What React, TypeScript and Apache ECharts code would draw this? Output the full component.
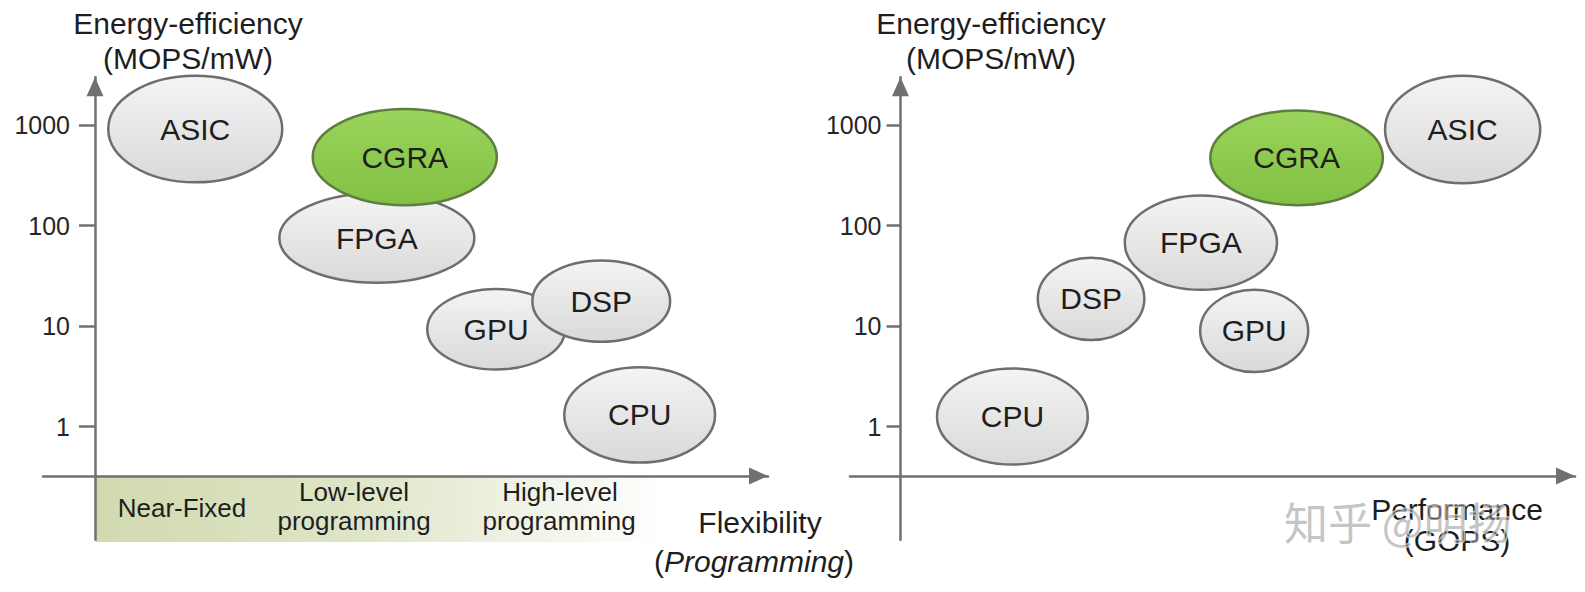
import React, { useEffect, useRef } from "react";
import * as echarts from "echarts";

// Tick values of the energy-efficiency axis (MOPS/mW)
const effTicks = [1, 10, 100, 1000];

// Left panel: energy-efficiency vs flexibility (ranges covered by each class)
const flexNames = ["ASIC", "FPGA", "CGRA", "GPU", "DSP", "CPU"];
const flexLow = [9.0, 32.6, 37.2, 53.0, 67.5, 71.9];
const flexHigh = [33.0, 59.5, 62.6, 72.0, 86.5, 92.7];
const flexEffLow = [270, 27, 160, 3.7, 7, 0.44];
const flexEffHigh = [3100, 210, 1450, 23.5, 45, 3.9];

// Right panel: energy-efficiency vs performance (GOPS)
const perfNames = ["CPU", "DSP", "GPU", "FPGA", "CGRA", "ASIC"];
const perfLow = [12.0, 25.9, 48.3, 37.9, 49.7, 73.8];
const perfHigh = [32.8, 40.6, 63.2, 58.9, 73.5, 95.2];
const perfEffLow = [0.42, 7.3, 3.5, 23, 160, 265];
const perfEffHigh = [3.8, 48, 23, 200, 1400, 3100];

// Programming-level band labels
const levelLabels = ["Near-Fixed", "Low-level", "programming", "High-level", "programming"];

const FONT = "'Liberation Sans', Arial, Helvetica, sans-serif";
const AXIS_COLOR = "#707070";
const TEXT_COLOR = "#1e1e1e";

function buildData(names: string[], lo: number[], hi: number[], eLo: number[], eHi: number[]) {
  return names.map((n, i) => ({ name: n, value: [lo[i], hi[i], eLo[i], eHi[i]] }));
}

function makeRenderer(names: string[]) {
  return function renderEllipse(params: any, api: any) {
    const x0 = api.value(0);
    const x1 = api.value(1);
    const y0 = api.value(2);
    const y1 = api.value(3);
    const p0 = api.coord([x0, y0]);
    const p1 = api.coord([x1, y1]);
    const cx = (p0[0] + p1[0]) / 2;
    const cy = (p0[1] + p1[1]) / 2;
    const rx = Math.abs(p1[0] - p0[0]) / 2;
    const ry = Math.abs(p1[1] - p0[1]) / 2;
    const name = names[params.dataIndex] || "";
    const green = name === "CGRA";
    const fill = green
      ? new echarts.graphic.LinearGradient(0, 0, 0, 1, [
          { offset: 0, color: "#9ad45c" },
          { offset: 1, color: "#82c043" },
        ])
      : new echarts.graphic.LinearGradient(0, 0, 0, 1, [
          { offset: 0, color: "#f4f4f4" },
          { offset: 1, color: "#d9d9d9" },
        ]);
    return {
      type: "group",
      children: [
        {
          type: "ellipse",
          shape: { cx, cy, rx, ry },
          style: { fill, stroke: green ? "#5e7d40" : "#6e6e6e", lineWidth: 2.5 },
        },
        {
          type: "text",
          style: {
            text: name,
            x: cx,
            y: cy,
            align: "center",
            verticalAlign: "middle",
            textAlign: "center",
            textVerticalAlign: "middle",
            fontSize: 30,
            fontFamily: FONT,
            fill: TEXT_COLOR,
          },
        },
      ],
    };
  };
}

function yAxisFor(gridIndex: number, offset: number, tickLen: number, margin: number) {
  return {
    type: "log",
    logBase: 10,
    gridIndex,
    min: 0.075,
    max: 3000,
    offset,
    axisLine: {
      show: true,
      onZero: false,
      symbol: ["none", "triangle"],
      symbolSize: [17, 19],
      symbolOffset: [0, -9.5],
      lineStyle: { color: AXIS_COLOR, width: 2.5 },
    },
    axisTick: {
      show: true,
      inside: false,
      length: tickLen,
      customValues: effTicks,
      lineStyle: { color: AXIS_COLOR, width: 2.5 },
    },
    axisLabel: {
      show: true,
      margin,
      customValues: effTicks,
      fontSize: 25,
      fontFamily: FONT,
      color: "#262626",
      formatter: (v: number) => String(Math.round(v)),
    },
    splitLine: { show: false },
    minorTick: { show: false },
  };
}

function xAxisFor(gridIndex: number) {
  return {
    type: "value",
    gridIndex,
    min: 0,
    max: 100,
    offset: -63.75,
    axisLine: {
      show: true,
      onZero: false,
      symbol: ["none", "triangle"],
      symbolSize: [17, 19],
      symbolOffset: [0, -9.5],
      lineStyle: { color: AXIS_COLOR, width: 2.5 },
    },
    axisTick: { show: false },
    axisLabel: { show: false },
    splitLine: { show: false },
  };
}

function txt(text: string, x: number, y: number, size: number, extra: any = {}) {
  return {
    type: "text",
    x,
    y,
    z: 10,
    style: {
      text,
      align: "center",
      verticalAlign: "middle",
      fontSize: size,
      fontFamily: FONT,
      fill: TEXT_COLOR,
      ...extra,
    },
  };
}

export default function App() {
  const ref = useRef<HTMLDivElement>(null);

  useEffect(() => {
    document.body.style.margin = "0";
    document.body.style.overflow = "hidden";
    if (!ref.current) return;
    const chart = echarts.init(ref.current, undefined, { renderer: "svg" });

    const option: any = {
      animation: false,
      backgroundColor: "#ffffff",
      grid: [
        { left: 43, top: 77.25, width: 725, height: 462.5 },
        { left: 850, top: 77.25, width: 725, height: 462.5 },
      ],
      xAxis: [xAxisFor(0), xAxisFor(1)],
      yAxis: [yAxisFor(0, -52, 16, 25), yAxisFor(1, -50.5, 14, 19)],
      series: [
        {
          type: "custom",
          xAxisIndex: 0,
          yAxisIndex: 0,
          renderItem: makeRenderer(flexNames),
          encode: { x: [0, 1], y: [2, 3] },
          data: buildData(flexNames, flexLow, flexHigh, flexEffLow, flexEffHigh),
          z: 3,
        },
        {
          type: "custom",
          xAxisIndex: 1,
          yAxisIndex: 1,
          renderItem: makeRenderer(perfNames),
          encode: { x: [0, 1], y: [2, 3] },
          data: buildData(perfNames, perfLow, perfHigh, perfEffLow, perfEffHigh),
          z: 3,
        },
      ],
      graphic: [
        {
          type: "rect",
          z: -10,
          shape: { x: 96, y: 477.5, width: 570, height: 64.5 },
          style: {
            fill: new echarts.graphic.LinearGradient(0, 0, 1, 0, [
              { offset: 0, color: "#d1daaf" },
              { offset: 0.45, color: "#dee5c7" },
              { offset: 0.8, color: "#f2f5ea" },
              { offset: 1, color: "#ffffff" },
            ]),
          },
        },
        txt(levelLabels[0], 182, 508, 26),
        txt(levelLabels[1], 354, 492, 26),
        txt(levelLabels[2], 354, 521, 26),
        txt(levelLabels[3], 560, 492, 26),
        txt(levelLabels[4], 559, 521, 26),
        // Left axis titles
        txt("Energy-efficiency", 188, 23.5, 30),
        txt("(MOPS/mW)", 188, 58.5, 30),
        txt("Flexibility", 760, 522.5, 30),
        {
          type: "text",
          x: 754,
          y: 561.5,
          z: 10,
          style: {
            text: "({i|Programming})",
            align: "center",
            verticalAlign: "middle",
            fontSize: 30,
            fontFamily: FONT,
            fill: TEXT_COLOR,
            rich: {
              i: { fontStyle: "italic", fontSize: 30, fontFamily: FONT, fill: TEXT_COLOR },
            },
          },
        },
        // Right axis titles
        txt("Energy-efficiency", 991, 23.5, 30),
        txt("(MOPS/mW)", 991, 58.5, 30),
        txt("Performance", 1457, 509.5, 30),
        txt("(GOPS)", 1457, 540.5, 30),
        // Watermark
        {
          type: "text",
          x: 1284,
          y: 521,
          z: 100,
          style: {
            text: "知乎 @明扬",
            align: "left",
            verticalAlign: "middle",
            fontSize: 44,
            fontFamily: "'Noto Sans CJK SC', sans-serif",
            fill: "rgba(140,140,140,0.5)",
            stroke: "rgba(255,255,255,0.7)",
            lineWidth: 1.5,
          },
        },
      ],
    };

    chart.setOption(option);
    return () => {
      chart.dispose();
    };
  }, []);

  return <div ref={ref} style={{ width: 1585, height: 592 }} />;
}
